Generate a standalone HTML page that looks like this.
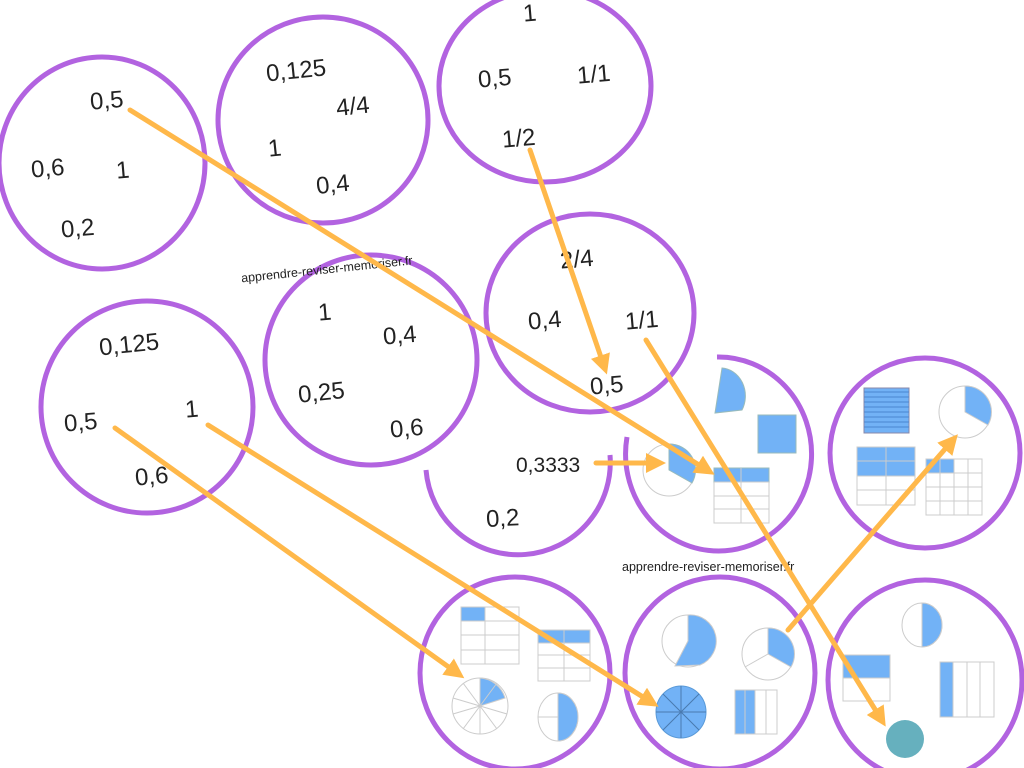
<!DOCTYPE html>
<html><head><meta charset="utf-8"><style>
html,body{margin:0;padding:0;background:#fff;}
svg{display:block}
text{font-family:"Liberation Sans",sans-serif;fill:#222;}
.n{font-size:24px;}
</style></head><body>
<svg width="1024" height="768" viewBox="0 0 1024 768" xmlns="http://www.w3.org/2000/svg">
<defs>
<marker id="ah" markerWidth="4" markerHeight="4" refX="2.2" refY="2" orient="auto" markerUnits="strokeWidth">
<path d="M0,0 L4,2 L0,4 Z" fill="#ffb84a"/>
</marker>
</defs>
<g fill="none" stroke="#b263e0" stroke-width="5">
<ellipse cx="102" cy="163" rx="103" ry="106"/>
<ellipse cx="323" cy="120" rx="105" ry="103"/>
<ellipse cx="545" cy="86" rx="106" ry="96"/>
<ellipse cx="590" cy="313" rx="104" ry="99"/>
<ellipse cx="147" cy="407" rx="106" ry="106"/>
<ellipse cx="371" cy="360" rx="106" ry="105"/>
<path d="M426,470 A92,92 0 0 0 610,455"/>
<path d="M627,437 A93,97 0 1 0 717,357"/>
<ellipse cx="925" cy="453" rx="95" ry="95"/>
<ellipse cx="515" cy="673" rx="95" ry="96"/>
<ellipse cx="720" cy="673" rx="95" ry="96"/>
<ellipse cx="925" cy="680" rx="97" ry="100"/>
</g>

<!-- shapes circle H -->
<g stroke="#9bb" stroke-width="1">
<path d="M722,368 A25,28 0 0 1 742,410 L715,413 Z" fill="#72b2f6"/>
<rect x="758" y="415" width="38" height="38" fill="#72b2f6"/>
<circle cx="669" cy="470" r="26" fill="#fff" stroke="#ccc"/>
<path d="M669,470 L669,444 A26,26 0 0 1 692,483 Z" fill="#72b2f6"/>
<rect x="714" y="468" width="55" height="55" fill="#fff" stroke="#ccc"/>
<rect x="714" y="468" width="55" height="14" fill="#72b2f6"/>
<path d="M741,468 V523 M714,482 H769 M714,496 H769 M714,509 H769" stroke="#ccc"/>
</g>
<!-- circle I -->
<g stroke="#ccc" stroke-width="1">
<rect x="864" y="388" width="45" height="45" fill="#72b2f6" stroke="#88a"/>
<path d="M864,392 H909 M864,397 H909 M864,402 H909 M864,407 H909 M864,412 H909 M864,417 H909 M864,422 H909 M864,427 H909" stroke="#4a86d0"/>
<circle cx="965" cy="412" r="26" fill="#fff"/>
<path d="M965,412 L965,386 A26,26 0 0 1 988,425 Z" fill="#72b2f6"/>
<rect x="857" y="447" width="58" height="58" fill="#fff"/>
<rect x="857" y="447" width="58" height="29" fill="#72b2f6"/>
<path d="M886,447 V505 M857,461 H915 M857,476 H915 M857,490 H915"/>
<rect x="926" y="459" width="56" height="56" fill="#fff"/>
<rect x="926" y="459" width="28" height="14" fill="#72b2f6"/>
<path d="M940,459 V515 M954,459 V515 M968,459 V515 M926,473 H982 M926,487 H982 M926,501 H982"/>
</g>
<!-- circle J -->
<g stroke="#ccc" stroke-width="1">
<rect x="461" y="607" width="58" height="57" fill="#fff"/>
<rect x="461" y="607" width="24" height="14" fill="#72b2f6"/>
<path d="M485,607 V664 M461,621 H519 M461,635 H519 M461,650 H519"/>
<rect x="538" y="630" width="52" height="51" fill="#fff"/>
<rect x="538" y="630" width="52" height="13" fill="#72b2f6"/>
<path d="M564,630 V681 M538,643 H590 M538,655 H590 M538,668 H590"/>
<circle cx="480" cy="706" r="28" fill="#fff"/>
<path d="M480,706 L480,678 A28,28 0 0 1 505,698 Z" fill="#72b2f6"/>
<path d="M480,706 L480,734 M480,706 L453,698 M480,706 L453,714 M480,706 L463,683 M480,706 L463,729 M480,706 L497,729 M480,706 L507,714 M480,706 L497,683"/>
<ellipse cx="558" cy="717" rx="20" ry="24" fill="#fff"/>
<path d="M558,693 A20,24 0 0 1 558,741 Z" fill="#72b2f6"/>
<path d="M538,717 H558"/>
</g>
<!-- circle K -->
<g stroke="#ccc" stroke-width="1">
<circle cx="688" cy="641" r="26" fill="#fff"/>
<path d="M688,641 L688,615 A26,26 0 0 1 700,665 L675,666 Z" fill="#72b2f6"/>
<circle cx="768" cy="654" r="26" fill="#fff"/>
<path d="M768,654 L768,628 A26,26 0 0 1 791,667 Z" fill="#72b2f6"/>
<path d="M768,654 L745,667"/>
<ellipse cx="681" cy="712" rx="25" ry="26" fill="#72b2f6" stroke="#5a9ad8"/>
<path d="M656,712 H706 M681,686 V738 M663,694 L699,730 M699,694 L663,730" stroke="#4a7ab0"/>
<rect x="735" y="690" width="42" height="44" fill="#fff"/>
<rect x="735" y="690" width="20" height="44" fill="#72b2f6"/>
<path d="M745,690 V734 M766,690 V734"/>
</g>
<!-- circle L -->
<g stroke="#ccc" stroke-width="1">
<ellipse cx="922" cy="625" rx="20" ry="22" fill="#fff"/>
<path d="M922,603 A20,22 0 0 1 922,647 Z" fill="#72b2f6"/>
<rect x="843" y="655" width="47" height="46" fill="#fff"/>
<rect x="843" y="655" width="47" height="23" fill="#72b2f6"/>
<rect x="940" y="662" width="54" height="55" fill="#fff"/>
<rect x="940" y="662" width="13" height="55" fill="#72b2f6"/>
<path d="M953,662 V717 M967,662 V717 M980,662 V717"/>
<ellipse cx="905" cy="739" rx="19" ry="19" fill="#66b0be" stroke="none"/>
</g>

<!-- labels -->
<text class="n" x="90" y="108" transform="rotate(-5 110 100)">0,5</text>
<text class="n" x="31" y="176" transform="rotate(-5 50 168)">0,6</text>
<text class="n" x="116" y="178" transform="rotate(-5 124 170)">1</text>
<text class="n" x="61" y="236" transform="rotate(-5 80 228)">0,2</text>

<text class="n" x="266" y="78" transform="rotate(-6 300 70)">0,125</text>
<text class="n" x="336" y="114" transform="rotate(-6 355 106)">4/4</text>
<text class="n" x="268" y="156" transform="rotate(-6 276 148)">1</text>
<text class="n" x="316" y="192" transform="rotate(-6 335 184)">0,4</text>

<text class="n" x="523" y="21" transform="rotate(-5 531 13)">1</text>
<text class="n" x="478" y="86" transform="rotate(-5 497 78)">0,5</text>
<text class="n" x="577" y="82" transform="rotate(-5 596 74)">1/1</text>
<text class="n" x="502" y="146" transform="rotate(-5 521 138)">1/2</text>

<text x="240" y="272" font-size="12.5" transform="rotate(-6 340 262)">apprendre-reviser-memoriser.fr</text>

<text class="n" x="560" y="267" transform="rotate(-5 579 259)">2/4</text>
<text class="n" x="528" y="328" transform="rotate(-5 547 320)">0,4</text>
<text class="n" x="625" y="328" transform="rotate(-5 644 320)">1/1</text>
<text class="n" x="590" y="393" transform="rotate(-5 609 385)">0,5</text>

<text class="n" x="99" y="352" transform="rotate(-6 133 344)">0,125</text>
<text class="n" x="64" y="430" transform="rotate(-5 83 422)">0,5</text>
<text class="n" x="185" y="417" transform="rotate(-5 193 409)">1</text>
<text class="n" x="135" y="484" transform="rotate(-5 154 476)">0,6</text>

<text class="n" x="318" y="320" transform="rotate(-5 326 312)">1</text>
<text class="n" x="383" y="343" transform="rotate(-5 402 335)">0,4</text>
<text class="n" x="298" y="400" transform="rotate(-6 325 392)">0,25</text>
<text class="n" x="390" y="436" transform="rotate(-5 409 428)">0,6</text>

<text x="516" y="472" font-size="21">0,3333</text>
<text class="n" x="486" y="526" transform="rotate(-3 505 518)">0,2</text>

<text x="622" y="571" font-size="12.5">apprendre-reviser-memoriser.fr</text>

<!-- arrows -->
<g stroke="#ffb84a" stroke-width="5" stroke-linecap="round" fill="none" marker-end="url(#ah)">
<line x1="130" y1="110" x2="707" y2="470"/>
<line x1="530" y1="150" x2="604" y2="366"/>
<line x1="646" y1="340" x2="881" y2="719"/>
<line x1="115" y1="428" x2="457" y2="673"/>
<line x1="208" y1="425" x2="651" y2="702"/>
<line x1="788" y1="630" x2="952" y2="441"/>
<line x1="596" y1="463" x2="657" y2="463"/>
</g>
</svg>
</body></html>
